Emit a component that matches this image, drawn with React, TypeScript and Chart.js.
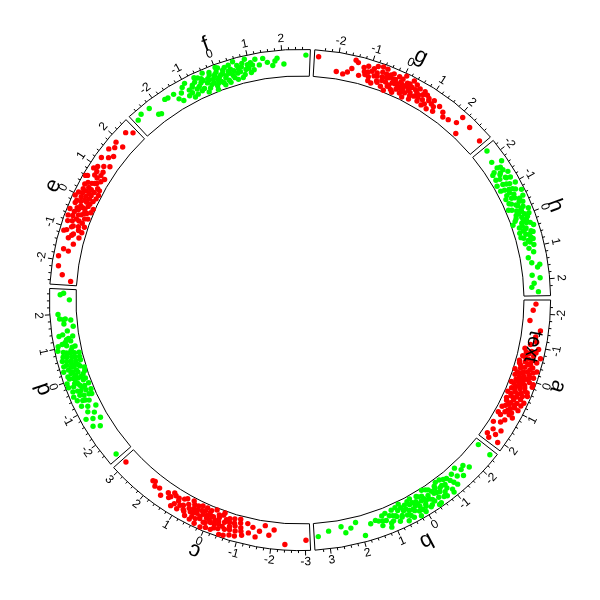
import { useEffect, useRef } from "react";
import { Chart, registerables } from "chart.js";

Chart.register(...registerables);

// sector names, data x ranges and point colours
const sectorNames = ["a", "b", "c", "d", "e", "f", "g", "h"];
const sectorXMin = [-2.29, -2.5, -3.02, -2.57, -2.6, -2.72, -2.58, -2.21];
const sectorXMax = [2.09, 3.32, 3.04, 2.63, 2.45, 2.7, 2.93, 2.36];
const sectorColors = ["#FF0000", "#00FF00", "#FF0000", "#00FF00", "#FF0000", "#00FF00", "#FF0000", "#00FF00"];

// points per sector: [x, y] with y in 0..1 across the track
const ptsA: [number, number][] = [
  [-2.29, 0.45], [-2.1, 0.35], [-1.78, 0.25], [-1.5, 0.7], [-1.3, 0.55], [-1.15, 0.62], [-1.05, 0.4], [-0.95, 0.75],
  [-0.85, 0.5], [-0.8, 0.3], [-0.72, 0.62], [-0.66, 0.2], [-0.6, 0.45], [-0.55, 0.8], [-0.5, 0.35], [-0.46, 0.58],
  [-0.42, 0.15], [-0.38, 0.7], [-0.33, 0.4], [-0.3, 0.9], [-0.27, 0.25], [-0.22, 0.55], [-0.2, 0.05], [-0.16, 0.65],
  [-0.12, 0.32], [-0.1, 0.85], [-0.06, 0.48], [-0.03, 0.12], [0, 0.6], [0.03, 0.38], [0.06, 0.75], [0.1, 0.22],
  [0.13, 0.52], [0.16, 0.92], [0.2, 0.42], [0.22, 0.08], [0.26, 0.66], [0.3, 0.3], [0.33, 0.5], [0.37, 0.82],
  [0.4, 0.18], [0.44, 0.6], [0.48, 0.38], [0.52, 0.7], [0.55, 0.1], [0.6, 0.5], [0.64, 0.28], [0.68, 0.86],
  [0.72, 0.44], [0.77, 0.62], [0.82, 0.2], [0.86, 0.55], [0.9, 0.35], [0.95, 0.78], [1.0, 0.48], [1.05, 0.15],
  [1.1, 0.6], [1.16, 0.35], [1.22, 0.72], [1.3, 0.25], [1.38, 0.5], [1.5, 0.4], [1.6, 0.15], [1.72, 0.6],
  [1.8, 0.3], [1.9, 0.5], [2.0, 0.2], [2.06, 0.75], [2.09, 0.35],
  [-0.9, 0.22], [-0.83, 0.68], [-0.76, 0.42], [-0.7, 0.9], [-0.63, 0.33], [-0.57, 0.6], [-0.5, 0.12], [-0.44, 0.48],
  [-0.36, 0.22], [-0.31, 0.62], [-0.24, 0.78], [-0.18, 0.4], [-0.13, 0.18], [-0.08, 0.7], [-0.01, 0.3], [0.04, 0.5],
  [0.08, 0.92], [0.15, 0.35], [0.19, 0.62], [0.24, 0.2], [0.28, 0.45], [0.35, 0.72], [0.41, 0.32], [0.46, 0.88],
  [0.5, 0.5], [0.57, 0.25], [0.62, 0.68], [0.66, 0.4], [0.74, 0.15], [0.79, 0.8], [0.84, 0.38], [0.92, 0.62],
  [0.98, 0.25], [1.08, 0.42], [1.18, 0.55], [1.26, 0.12],
];
const ptsB: [number, number][] = [
  [-2.5, 0.2], [-2.48, 0.8], [-1.8, 0.52], [-1.7, 0.3], [-1.57, 0.37], [-1.5, 0.6], [-1.45, 0.15], [-1.35, 0.45],
  [-1.25, 0.25], [-1.2, 0.7], [-1.1, 0.4], [-0.99, 0.72], [-0.95, 0.2], [-0.88, 0.55], [-0.8, 0.35], [-0.75, 0.8],
  [-0.7, 0.1], [-0.64, 0.5], [-0.58, 0.28], [-0.52, 0.65], [-0.47, 0.42], [-0.42, 0.9], [-0.38, 0.18], [-0.33, 0.58],
  [-0.28, 0.36], [-0.24, 0.75], [-0.2, 0.05], [-0.15, 0.48], [-0.1, 0.25], [-0.06, 0.68], [-0.02, 0.4], [0.02, 0.85],
  [0.05, 0.15], [0.1, 0.55], [0.14, 0.32], [0.18, 0.7], [0.22, 0.45], [0.27, 0.1], [0.3, 0.6], [0.35, 0.3],
  [0.4, 0.82], [0.44, 0.5], [0.5, 0.22], [0.55, 0.62], [0.6, 0.4], [0.66, 0.08], [0.7, 0.55], [0.76, 0.3],
  [0.82, 0.72], [0.88, 0.45], [0.94, 0.18], [1.0, 0.6], [1.06, 0.35], [1.12, 0.8], [1.2, 0.48], [1.28, 0.25],
  [1.35, 0.62], [1.42, 0.4], [1.51, 0.33], [1.68, 0.4], [1.93, 0.78], [2.12, 0.19], [2.3, 0.36], [2.48, 0.5],
  [2.59, 0.23], [2.99, 0.33], [3.32, 0.5],
  [-1.15, 0.55], [-1.05, 0.25], [-0.97, 0.85], [-0.9, 0.4], [-0.84, 0.12], [-0.77, 0.62], [-0.72, 0.38], [-0.66, 0.75],
  [-0.6, 0.2], [-0.55, 0.45], [-0.49, 0.88], [-0.44, 0.3], [-0.36, 0.68], [-0.31, 0.12], [-0.26, 0.5], [-0.18, 0.8],
  [-0.12, 0.38], [-0.08, 0.6], [0, 0.2], [0.07, 0.72], [0.12, 0.42], [0.2, 0.9], [0.25, 0.28], [0.32, 0.52],
  [0.38, 0.15], [0.46, 0.7], [0.52, 0.38], [0.58, 0.85], [0.64, 0.25], [0.72, 0.6], [0.8, 0.15], [0.86, 0.5],
  [0.96, 0.4], [1.08, 0.65], [1.16, 0.2], [1.3, 0.45],
];
const ptsC: [number, number][] = [
  [-3.02, 0.62], [-2.4, 0.8], [-2.04, 0.27], [-1.9, 0.5], [-1.75, 0.15], [-1.6, 0.4], [-1.5, 0.65], [-1.38, 0.3],
  [-1.28, 0.55], [-1.2, 0.2], [-1.1, 0.7], [-1.02, 0.42], [-0.95, 0.1], [-0.88, 0.6], [-0.8, 0.32], [-0.74, 0.82],
  [-0.68, 0.5], [-0.62, 0.2], [-0.56, 0.66], [-0.5, 0.4], [-0.45, 0.92], [-0.4, 0.15], [-0.35, 0.55], [-0.3, 0.3],
  [-0.25, 0.75], [-0.2, 0.45], [-0.15, 0.05], [-0.1, 0.6], [-0.06, 0.36], [-0.02, 0.85], [0.02, 0.25], [0.06, 0.5],
  [0.1, 0.7], [0.15, 0.12], [0.2, 0.42], [0.24, 0.62], [0.28, 0.3], [0.33, 0.88], [0.38, 0.48], [0.43, 0.2],
  [0.48, 0.68], [0.53, 0.38], [0.58, 0.55], [0.63, 0.1], [0.68, 0.78], [0.73, 0.32], [0.8, 0.6], [0.86, 0.45],
  [0.92, 0.22], [0.98, 0.7], [1.05, 0.4], [1.12, 0.58], [1.2, 0.28], [1.28, 0.22], [1.36, 0.5], [1.45, 0.35],
  [1.6, 0.6], [1.75, 0.4], [1.9, 0.45], [1.98, 0.3], [2.05, 0.33], [3.04, 0.52],
  [-1.05, 0.55], [-0.98, 0.25], [-0.9, 0.8], [-0.84, 0.42], [-0.77, 0.15], [-0.71, 0.62], [-0.65, 0.35], [-0.58, 0.9],
  [-0.53, 0.28], [-0.47, 0.58], [-0.42, 0.05], [-0.37, 0.72], [-0.32, 0.45], [-0.27, 0.2], [-0.22, 0.6], [-0.17, 0.85],
  [-0.12, 0.35], [-0.04, 0.52], [0, 0.15], [0.04, 0.68], [0.08, 0.4], [0.13, 0.92], [0.18, 0.25], [0.26, 0.55],
  [0.31, 0.12], [0.36, 0.7], [0.41, 0.35], [0.46, 0.5], [0.51, 0.82], [0.56, 0.22], [0.66, 0.45], [0.76, 0.65],
  [0.84, 0.15], [0.95, 0.52], [1.08, 0.3], [1.18, 0.72], [1.32, 0.42],
];
const ptsD: [number, number][] = [
  [-2.57, 0.6], [-1.6, 0.45], [-1.5, 0.7], [-1.38, 0.27], [-1.3, 0.55], [-1.22, 0.8], [-1.15, 0.38], [-1.05, 0.6],
  [-0.98, 0.2], [-0.9, 0.5], [-0.82, 0.72], [-0.75, 0.35], [-0.68, 0.58], [-0.6, 0.15], [-0.55, 0.45], [-0.48, 0.85],
  [-0.42, 0.3], [-0.36, 0.62], [-0.3, 0.4], [-0.25, 0.1], [-0.2, 0.7], [-0.15, 0.5], [-0.1, 0.25], [-0.05, 0.9],
  [0, 0.42], [0.04, 0.6], [0.08, 0.18], [0.13, 0.78], [0.18, 0.35], [0.22, 0.55], [0.27, 0.05], [0.32, 0.68],
  [0.36, 0.45], [0.4, 0.25], [0.45, 0.82], [0.5, 0.5], [0.54, 0.3], [0.58, 0.65], [0.63, 0.12], [0.68, 0.42],
  [0.73, 0.75], [0.78, 0.28], [0.83, 0.58], [0.88, 0.38], [0.93, 0.9], [0.98, 0.2], [1.04, 0.52], [1.1, 0.68],
  [1.16, 0.33], [1.22, 0.48], [1.3, 0.22], [1.38, 0.6], [1.48, 0.4], [1.6, 0.15], [1.7, 0.5], [1.83, 0.5],
  [1.85, 0.43], [1.8, 0.22], [1.86, 0.65], [2.0, 0.7], [2.43, 0.24], [2.58, 0.6], [2.63, 0.47],
  [-0.7, 0.48], [-0.62, 0.78], [-0.57, 0.25], [-0.5, 0.6], [-0.45, 0.1], [-0.39, 0.5], [-0.33, 0.8], [-0.28, 0.28],
  [-0.22, 0.45], [-0.17, 0.9], [-0.12, 0.62], [-0.07, 0.15], [-0.02, 0.55], [0.02, 0.3], [0.06, 0.75], [0.11, 0.48],
  [0.16, 0.08], [0.2, 0.62], [0.25, 0.38], [0.3, 0.88], [0.34, 0.2], [0.38, 0.55], [0.43, 0.35], [0.47, 0.7],
  [0.52, 0.12], [0.56, 0.48], [0.61, 0.82], [0.66, 0.3], [0.71, 0.6], [0.76, 0.1], [0.81, 0.45], [0.86, 0.7],
  [0.96, 0.32], [1.06, 0.85], [1.14, 0.55], [1.25, 0.4], [1.35, 0.75],
];
const ptsE: [number, number][] = [
  [-2.6, 0.22], [-2.42, 0.57], [-2.17, 0.76], [-1.88, 0.82], [-1.69, 0.48], [-1.65, 0.68], [-1.45, 0.35], [-1.3, 0.6],
  [-1.22, 0.2], [-1.15, 0.45], [-1.08, 0.75], [-1.0, 0.3], [-0.92, 0.55], [-0.85, 0.12], [-0.78, 0.65], [-0.72, 0.4],
  [-0.66, 0.88], [-0.6, 0.22], [-0.55, 0.5], [-0.5, 0.7], [-0.45, 0.32], [-0.4, 0.58], [-0.35, 0.08], [-0.3, 0.45],
  [-0.25, 0.8], [-0.2, 0.28], [-0.15, 0.62], [-0.1, 0.4], [-0.05, 0.92], [0, 0.18], [0.05, 0.52], [0.1, 0.7],
  [0.14, 0.35], [0.2, 0.6], [0.25, 0.1], [0.3, 0.45], [0.36, 0.78], [0.42, 0.25], [0.48, 0.55], [0.55, 0.38],
  [0.62, 0.85], [0.7, 0.48], [0.78, 0.2], [0.86, 0.62], [0.94, 0.4], [1.0, 0.7], [1.1, 0.5], [1.2, 0.3],
  [1.28, 0.78], [1.4, 0.55], [1.52, 0.42], [1.61, 0.75], [1.75, 0.6], [1.9, 0.7], [1.92, 0.38], [2.3, 0.67],
  [2.45, 0.46],
  [-1.2, 0.5], [-1.12, 0.85], [-1.04, 0.15], [-0.96, 0.6], [-0.89, 0.35], [-0.82, 0.82], [-0.75, 0.25], [-0.69, 0.52],
  [-0.63, 0.7], [-0.57, 0.1], [-0.52, 0.4], [-0.47, 0.9], [-0.42, 0.22], [-0.37, 0.65], [-0.32, 0.35], [-0.27, 0.55],
  [-0.22, 0.05], [-0.17, 0.78], [-0.12, 0.25], [-0.07, 0.5], [-0.02, 0.68], [0.02, 0.35], [0.07, 0.85], [0.12, 0.12],
  [0.17, 0.45], [0.22, 0.75], [0.27, 0.3], [0.33, 0.58], [0.39, 0.15], [0.45, 0.7], [0.52, 0.45], [0.59, 0.92],
  [0.66, 0.28], [0.74, 0.62], [0.82, 0.4], [0.9, 0.8],
];
const ptsF: [number, number][] = [
  [-2.72, 0.68], [-2.54, 0.78], [-2.25, 0.75], [-2.13, 0.35], [-2.05, 0.3], [-1.72, 0.68], [-1.62, 0.66], [-1.42, 0.66],
  [-1.35, 0.4], [-1.25, 0.25], [-1.2, 0.55], [-1.1, 0.72], [-1.02, 0.3], [-0.95, 0.5], [-0.88, 0.15], [-0.8, 0.62],
  [-0.72, 0.4], [-0.66, 0.85], [-0.6, 0.25], [-0.54, 0.55], [-0.48, 0.7], [-0.42, 0.1], [-0.36, 0.45], [-0.3, 0.6],
  [-0.25, 0.32], [-0.2, 0.8], [-0.15, 0.5], [-0.1, 0.2], [-0.06, 0.65], [-0.02, 0.42], [0.02, 0.9], [0.06, 0.3],
  [0.1, 0.55], [0.15, 0.12], [0.2, 0.7], [0.25, 0.45], [0.3, 0.25], [0.35, 0.6], [0.4, 0.82], [0.46, 0.38],
  [0.52, 0.55], [0.58, 0.18], [0.64, 0.72], [0.7, 0.45], [0.76, 0.62], [0.82, 0.3], [0.9, 0.88], [0.97, 0.5],
  [1.05, 0.7], [1.12, 0.4], [1.2, 0.8], [1.3, 0.55], [1.43, 0.78], [1.55, 0.6], [1.7, 0.45], [1.78, 0.62],
  [1.85, 0.72], [2.04, 0.47], [2.7, 0.8],
  [-0.98, 0.82], [-0.9, 0.35], [-0.83, 0.55], [-0.76, 0.2], [-0.7, 0.68], [-0.63, 0.45], [-0.57, 0.78], [-0.51, 0.3],
  [-0.45, 0.6], [-0.39, 0.88], [-0.33, 0.22], [-0.27, 0.52], [-0.22, 0.7], [-0.17, 0.35], [-0.12, 0.05], [-0.08, 0.6],
  [-0.04, 0.28], [0, 0.72], [0.04, 0.48], [0.08, 0.85], [0.12, 0.22], [0.17, 0.58], [0.22, 0.38], [0.27, 0.78],
  [0.33, 0.15], [0.38, 0.5], [0.43, 0.65], [0.49, 0.28], [0.55, 0.9], [0.61, 0.42], [0.67, 0.58], [0.74, 0.2],
  [0.8, 0.75], [0.88, 0.48], [0.95, 0.65], [1.02, 0.32], [1.1, 0.6],
];
const ptsG: [number, number][] = [
  [-2.58, 0.76], [-2.0, 0.27], [-1.79, 0.22], [-1.66, 0.33], [-1.55, 0.5], [-1.48, 0.85], [-1.4, 0.78], [-1.3, 0.3],
  [-1.2, 0.65], [-1.12, 0.4], [-1.05, 0.53], [-0.98, 0.2], [-0.9, 0.72], [-0.84, 0.45], [-0.78, 0.6], [-0.72, 0.3],
  [-0.66, 0.9], [-0.6, 0.52], [-0.55, 0.15], [-0.5, 0.68], [-0.45, 0.38], [-0.4, 0.58], [-0.35, 0.25], [-0.3, 0.8],
  [-0.25, 0.45], [-0.2, 0.62], [-0.15, 0.1], [-0.1, 0.5], [-0.05, 0.35], [0, 0.75], [0.04, 0.55], [0.08, 0.2],
  [0.12, 0.42], [0.17, 0.68], [0.22, 0.3], [0.27, 0.52], [0.32, 0.88], [0.37, 0.4], [0.42, 0.15], [0.47, 0.6],
  [0.52, 0.35], [0.58, 0.72], [0.63, 0.48], [0.68, 0.25], [0.74, 0.58], [0.8, 0.4], [0.86, 0.65], [0.92, 0.3],
  [0.98, 0.5], [1.05, 0.18], [1.12, 0.62], [1.2, 0.4], [1.26, 0.24], [1.35, 0.55], [1.53, 0.45], [1.62, 0.3],
  [1.8, 0.35], [2.05, 0.47], [2.09, 0.78], [2.26, 0.14], [2.44, 0.68], [2.93, 0.6],
  [-1.16, 0.5], [-1.08, 0.75], [-1.0, 0.35], [-0.94, 0.6], [-0.87, 0.15], [-0.81, 0.85], [-0.75, 0.48], [-0.69, 0.25],
  [-0.63, 0.7], [-0.57, 0.38], [-0.52, 0.88], [-0.47, 0.55], [-0.42, 0.05], [-0.37, 0.72], [-0.32, 0.32], [-0.27, 0.6],
  [-0.22, 0.18], [-0.17, 0.45], [-0.12, 0.78], [-0.07, 0.28], [-0.02, 0.62], [0.02, 0.4], [0.06, 0.92], [0.1, 0.3],
  [0.15, 0.55], [0.2, 0.1], [0.25, 0.7], [0.3, 0.45], [0.35, 0.62], [0.4, 0.28], [0.45, 0.8], [0.55, 0.52],
  [0.65, 0.38], [0.75, 0.72], [0.85, 0.2], [0.95, 0.58], [1.1, 0.45],
];
const ptsH: [number, number][] = [
  [-2.21, 0.57], [-1.85, 0.45], [-1.72, 0.8], [-1.62, 0.5], [-1.55, 0.3], [-1.48, 0.65], [-1.4, 0.45], [-1.32, 0.2],
  [-1.25, 0.58], [-1.18, 0.75], [-1.1, 0.35], [-1.02, 0.6], [-0.95, 0.15], [-0.88, 0.48], [-0.8, 0.7], [-0.74, 0.28],
  [-0.68, 0.55], [-0.6, 0.4], [-0.54, 0.85], [-0.48, 0.22], [-0.42, 0.62], [-0.36, 0.45], [-0.3, 0.1], [-0.24, 0.68],
  [-0.18, 0.38], [-0.12, 0.55], [-0.06, 0.3], [0, 0.8], [0.05, 0.48], [0.1, 0.18], [0.16, 0.62], [0.22, 0.4],
  [0.28, 0.72], [0.34, 0.25], [0.4, 0.5], [0.46, 0.35], [0.52, 0.65], [0.58, 0.42], [0.64, 0.2], [0.7, 0.58],
  [0.78, 0.45], [0.86, 0.3], [0.94, 0.62], [1.02, 0.4], [1.15, 0.55], [1.3, 0.3], [1.47, 0.4], [1.55, 0.7],
  [1.62, 0.6], [1.85, 0.35], [1.95, 0.65], [2.1, 0.4], [2.22, 0.3], [2.36, 0.55],
  [-1.58, 0.62], [-1.5, 0.2], [-1.44, 0.5], [-1.36, 0.78], [-1.28, 0.35], [-1.22, 0.6], [-1.14, 0.12], [-1.06, 0.48],
  [-0.98, 0.82], [-0.92, 0.3], [-0.85, 0.6], [-0.78, 0.42], [-0.71, 0.9], [-0.64, 0.18], [-0.57, 0.52], [-0.5, 0.68],
  [-0.44, 0.3], [-0.38, 0.75], [-0.32, 0.5], [-0.26, 0.22], [-0.2, 0.58], [-0.14, 0.85], [-0.08, 0.4], [-0.02, 0.62],
  [0.03, 0.25], [0.08, 0.7], [0.13, 0.5], [0.19, 0.05], [0.25, 0.58], [0.31, 0.38], [0.37, 0.82], [0.43, 0.45],
  [0.5, 0.2], [0.56, 0.72], [0.62, 0.55], [0.68, 0.3], [0.76, 0.65], [0.84, 0.5],
];
const sectorPoints = [ptsA, ptsB, ptsC, ptsD, ptsE, ptsF, ptsG, ptsH];

// free text placed inside sector a
const noteText = "text";
const noteSector = 0;
const noteX = -1.0;
const noteY = 0.5;

// circular layout (px of the 600x600 canvas, degrees)
const START_DEG = 0;
const GAP_DEG = 1;
const CELL_PAD_DEG = 1;
const R_IN = 227;
const R_OUT = 254;
const FONT = "'Liberation Sans', Arial, sans-serif";

const totalRange = sectorXMin.reduce((s, v, i) => s + sectorXMax[i] - v, 0);
const degPerUnit = (360 - (GAP_DEG + 2 * CELL_PAD_DEG) * sectorNames.length) / totalRange;
const sectorStart = sectorNames.map((_, i) => {
  let a = START_DEG;
  for (let j = 0; j < i; j++) a -= (sectorXMax[j] - sectorXMin[j]) * degPerUnit + 2 * CELL_PAD_DEG + GAP_DEG;
  return a;
});

// angle in degrees (counter-clockwise from 3 o'clock), sectors run clockwise
const angleOf = (i: number, x: number) => sectorStart[i] - CELL_PAD_DEG - (x - sectorXMin[i]) * degPerUnit;
const radiusOf = (y: number) => R_IN + 0.5 + y * (R_OUT - R_IN - 1);
const rad = (d: number) => (d * Math.PI) / 180;

const circosFrame = {
  id: "circosFrame",
  beforeDatasetsDraw(chart: Chart) {
    const { ctx } = chart;
    const xs = chart.scales.x;
    const ys = chart.scales.y;
    const cx = xs.getPixelForValue(0);
    const cy = ys.getPixelForValue(0);
    const k = xs.getPixelForValue(1) - cx;
    const pt = (deg: number, r: number) => [cx + r * k * Math.cos(rad(deg)), cy - r * k * Math.sin(rad(deg))];

    ctx.save();
    ctx.strokeStyle = "#000";
    ctx.fillStyle = "#000";
    ctx.lineWidth = 1;

    sectorNames.forEach((name, i) => {
      const a0 = angleOf(i, sectorXMin[i]) + CELL_PAD_DEG;
      const a1 = angleOf(i, sectorXMax[i]) - CELL_PAD_DEG;
      // cell border
      ctx.beginPath();
      ctx.arc(cx, cy, R_OUT * k, -rad(a0), -rad(a1), false);
      const [ix, iy] = pt(a1, R_IN);
      ctx.lineTo(ix, iy);
      ctx.arc(cx, cy, R_IN * k, -rad(a1), -rad(a0), true);
      ctx.closePath();
      ctx.stroke();

      // axis ticks: minor every 0.2, labelled majors on integers
      const first = Math.ceil(sectorXMin[i] * 5 - 1e-9);
      const last = Math.floor(sectorXMax[i] * 5 + 1e-9);
      ctx.font = `12px ${FONT}`;
      ctx.textAlign = "center";
      ctx.textBaseline = "middle";
      for (let t = first; t <= last; t++) {
        const v = t / 5;
        const major = t % 5 === 0;
        const a = angleOf(i, v);
        const [x0, y0] = pt(a, R_OUT);
        const [x1, y1] = pt(a, R_OUT + (major ? 5 : 2.5));
        ctx.beginPath();
        ctx.moveTo(x0, y0);
        ctx.lineTo(x1, y1);
        ctx.stroke();
        if (major) {
          const [lx, ly] = pt(a, 265.5);
          const flip = Math.sin(rad(a)) < 0;
          ctx.save();
          ctx.translate(lx, ly);
          ctx.rotate(rad(flip ? 270 - a : 90 - a));
          ctx.fillText(String(Math.round(v)), 0, 0);
          ctx.restore();
        }
      }

      // sector name
      const mid = (a0 + a1) / 2;
      const [nx, ny] = pt(mid, 269.5);
      ctx.save();
      ctx.translate(nx, ny);
      ctx.rotate(rad(90 - mid));
      ctx.font = `22px ${FONT}`;
      ctx.textAlign = "center";
      ctx.textBaseline = "alphabetic";
      ctx.fillText(name, 0, 0);
      ctx.restore();
    });
    ctx.restore();
  },
  afterDatasetsDraw(chart: Chart) {
    const { ctx } = chart;
    const xs = chart.scales.x;
    const ys = chart.scales.y;
    const cx = xs.getPixelForValue(0);
    const cy = ys.getPixelForValue(0);
    const k = xs.getPixelForValue(1) - cx;
    const a = angleOf(noteSector, noteX);
    const r = radiusOf(noteY) * k;
    ctx.save();
    ctx.translate(cx + r * Math.cos(rad(a)), cy - r * Math.sin(rad(a)));
    ctx.rotate(rad(90 - a));
    ctx.fillStyle = "#000";
    ctx.font = `20px ${FONT}`;
    ctx.textAlign = "center";
    ctx.textBaseline = "middle";
    ctx.fillText(noteText, 0, 0);
    ctx.restore();
  },
};

export default function App() {
  const chartRef = useRef<HTMLCanvasElement | null>(null);
  const chartInstance = useRef<Chart | null>(null);

  useEffect(() => {
    if (!chartRef.current) return;
    if (chartInstance.current) chartInstance.current.destroy();

    const datasets = sectorPoints.map((pts, i) => ({
      label: sectorNames[i],
      data: pts.map(([x, y]) => {
        const a = rad(angleOf(i, x));
        const r = radiusOf(y);
        return { x: r * Math.cos(a), y: r * Math.sin(a) };
      }),
      backgroundColor: sectorColors[i],
      borderWidth: 0,
      pointRadius: 2.7,
    }));

    chartInstance.current = new Chart(chartRef.current, {
      type: "scatter",
      data: { datasets },
      options: {
        responsive: false,
        animation: false,
        layout: { padding: 0 },
        scales: {
          x: { type: "linear", min: -300, max: 300, display: false },
          y: { type: "linear", min: -300, max: 300, display: false },
        },
        plugins: {
          legend: { display: false },
          tooltip: { enabled: false },
        },
      },
      plugins: [circosFrame],
    });

    return () => {
      if (chartInstance.current) {
        chartInstance.current.destroy();
        chartInstance.current = null;
      }
    };
  }, []);

  return (
    <div style={{ position: "absolute", left: 0, top: 0, width: 600, height: 600, background: "#fff" }}>
      <canvas ref={chartRef} width={600} height={600} />
    </div>
  );
}
